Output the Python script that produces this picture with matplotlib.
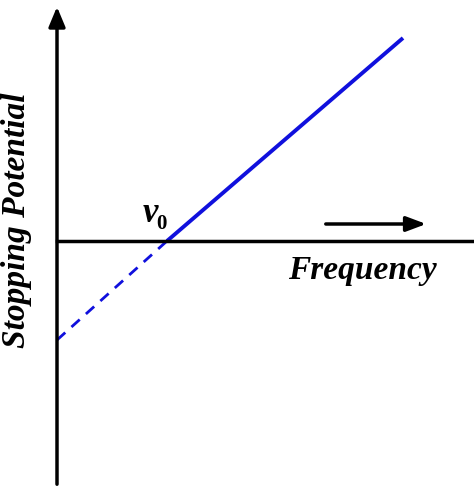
import matplotlib
matplotlib.use("Agg")
import matplotlib.pyplot as plt

freq_dashed = [0, 110]
pot_dashed = [-99, 0]
freq_solid = [110, 346]
pot_solid = [0, 203]

fig = plt.figure(figsize=(4.74, 4.87), dpi=100)
ax = fig.add_axes([0, 0, 1, 1])
ax.set_xlim(-57, 417)
ax.set_ylim(-246, 241)
ax.axis("off")

blue = "#1010dd"
ax.plot(freq_dashed, pot_dashed, color=blue, lw=2, ls=(0, (4, 3)))
ax.plot(freq_solid, pot_solid, color=blue, lw=2.8, solid_capstyle="butt")

# axes
ax.annotate("", xy=(0, 237), xytext=(0, -246),
            arrowprops=dict(arrowstyle="-|>,head_length=1.2,head_width=0.5", color="black", lw=2.5))
ax.plot([0, 417], [0, 0], color="black", lw=2.5)
ax.annotate("", xy=(372, 17), xytext=(266, 17),
            arrowprops=dict(arrowstyle="-|>,head_length=1.2,head_width=0.45", color="black", lw=2.5))

font = dict(family="Liberation Serif", weight="bold", style="italic")
ax.text(305, -29, "Frequency", fontsize=24, ha="center", va="center", **font)
ax.text(-40, 21, "Stopping Potential", fontsize=24, ha="center", va="center", rotation=90, **font)
ax.text(93, 27, "v", fontsize=25, ha="center", va="center", **font)
ax.text(104, 17, "0", fontsize=15, ha="center", va="center",
        family="Liberation Serif", weight="bold")
fig.savefig("out.png", dpi=100)
